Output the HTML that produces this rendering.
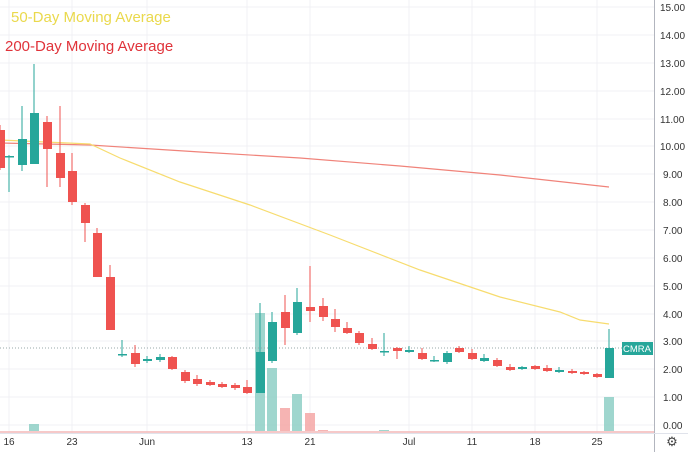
<!DOCTYPE html>
<html><head><meta charset="utf-8"><style>
html,body{margin:0;padding:0;background:#fff}
svg{display:block;font-family:"Liberation Sans",sans-serif}
</style></head><body>
<svg width="688" height="452" viewBox="0 0 688 452">
<rect width="688" height="452" fill="#fff"/>
<g stroke="#f0f1f4" stroke-width="1">
<line x1="0" x2="654" y1="7" y2="7"/><line x1="0" x2="654" y1="35" y2="35"/><line x1="0" x2="654" y1="63" y2="63"/><line x1="0" x2="654" y1="91" y2="91"/><line x1="0" x2="654" y1="119" y2="119"/><line x1="0" x2="654" y1="146" y2="146"/><line x1="0" x2="654" y1="174" y2="174"/><line x1="0" x2="654" y1="202" y2="202"/><line x1="0" x2="654" y1="230" y2="230"/><line x1="0" x2="654" y1="258" y2="258"/><line x1="0" x2="654" y1="286" y2="286"/><line x1="0" x2="654" y1="314" y2="314"/><line x1="0" x2="654" y1="341" y2="341"/><line x1="0" x2="654" y1="369" y2="369"/><line x1="0" x2="654" y1="397" y2="397"/><line x1="0" x2="654" y1="425" y2="425"/>
<line x1="9" x2="9" y1="0" y2="433"/><line x1="72" x2="72" y1="0" y2="433"/><line x1="147" x2="147" y1="0" y2="433"/><line x1="247" x2="247" y1="0" y2="433"/><line x1="310" x2="310" y1="0" y2="433"/><line x1="409" x2="409" y1="0" y2="433"/><line x1="472" x2="472" y1="0" y2="433"/><line x1="535" x2="535" y1="0" y2="433"/><line x1="597" x2="597" y1="0" y2="433"/>
</g>
<!-- volume -->
<g opacity="0.85">
<rect x="29" y="424" width="10" height="9" fill="#8fd0c6"/>
<rect x="255" y="313" width="10" height="120" fill="#8fd0c6"/>
<rect x="267" y="368" width="10" height="65" fill="#8fd0c6"/>
<rect x="280" y="408" width="10" height="25" fill="#f5a8a6"/>
<rect x="292" y="394" width="10" height="39" fill="#8fd0c6"/>
<rect x="305" y="413" width="10" height="20" fill="#f5a8a6"/>
<rect x="318" y="430" width="10" height="3" fill="#f5a8a6"/>
<rect x="330" y="431" width="10" height="2" fill="#f5a8a6"/>
<rect x="379" y="430" width="10" height="3" fill="#8fd0c6"/>
<rect x="604" y="397" width="10" height="36" fill="#8fd0c6"/>
<rect x="0" y="431" width="654" height="2" fill="#f5c0c0"/>
</g>
<!-- MAs -->
<polyline fill="none" stroke="#f0837a" stroke-width="1.2" points="0,143 90,145 200,152 300,158 400,166 500,175 609,187"/>
<polyline fill="none" stroke="#f7dc6f" stroke-width="1.2" points="0,140 90,144 120,158 180,182 250,205 330,235 420,270 500,297 560,312 580,320 609,324"/>
<line x1="0" x2="654" y1="348" y2="348" stroke="#9aa" stroke-width="1" stroke-dasharray="1,2"/>
<!-- candles -->
<g id="c"></g>
<g stroke-width="1">
<!-- format: wick then body -->
<line x1="0" x2="0" y1="125" y2="170" stroke="#ef5350"/><rect x="-4" y="130" width="9" height="38" fill="#ef5350"/>
<line x1="9" x2="9" y1="155" y2="192" stroke="#26a69a"/><rect x="5" y="156" width="9" height="1.5" fill="#26a69a"/>
<line x1="22" x2="22" y1="106" y2="171" stroke="#26a69a"/><rect x="18" y="139" width="9" height="26" fill="#26a69a"/>
<line x1="34" x2="34" y1="64" y2="164" stroke="#26a69a"/><rect x="30" y="113" width="9" height="51" fill="#26a69a"/>
<line x1="47" x2="47" y1="116" y2="187" stroke="#ef5350"/><rect x="43" y="122" width="9" height="27" fill="#ef5350"/>
<line x1="60" x2="60" y1="106" y2="187" stroke="#ef5350"/><rect x="56" y="153" width="9" height="25" fill="#ef5350"/>
<line x1="72" x2="72" y1="153" y2="205" stroke="#ef5350"/><rect x="68" y="171" width="9" height="31" fill="#ef5350"/>
<line x1="85" x2="85" y1="203" y2="242" stroke="#ef5350"/><rect x="81" y="205" width="9" height="18" fill="#ef5350"/>
<line x1="97" x2="97" y1="228" y2="277" stroke="#ef5350"/><rect x="93" y="233" width="9" height="44" fill="#ef5350"/>
<line x1="110" x2="110" y1="265" y2="330" stroke="#ef5350"/><rect x="106" y="277" width="9" height="53" fill="#ef5350"/>
<line x1="122" x2="122" y1="340" y2="357" stroke="#26a69a"/><rect x="118" y="354" width="9" height="1.5" fill="#26a69a"/>
<line x1="135" x2="135" y1="345" y2="367" stroke="#ef5350"/><rect x="131" y="353" width="9" height="11" fill="#ef5350"/>
<line x1="147" x2="147" y1="356" y2="363" stroke="#26a69a"/><rect x="143" y="359" width="9" height="2" fill="#26a69a"/>
<line x1="160" x2="160" y1="354" y2="362" stroke="#26a69a"/><rect x="156" y="357" width="9" height="3" fill="#26a69a"/>
<line x1="172" x2="172" y1="356" y2="370" stroke="#ef5350"/><rect x="168" y="357" width="9" height="12" fill="#ef5350"/>
<line x1="185" x2="185" y1="370" y2="383" stroke="#ef5350"/><rect x="181" y="372" width="9" height="9" fill="#ef5350"/>
<line x1="197" x2="197" y1="375" y2="386" stroke="#ef5350"/><rect x="193" y="379" width="9" height="5" fill="#ef5350"/>
<line x1="210" x2="210" y1="380" y2="386" stroke="#ef5350"/><rect x="206" y="382" width="9" height="3" fill="#ef5350"/>
<line x1="222" x2="222" y1="382" y2="388" stroke="#ef5350"/><rect x="218" y="384" width="9" height="3" fill="#ef5350"/>
<line x1="235" x2="235" y1="383" y2="390" stroke="#ef5350"/><rect x="231" y="385" width="9" height="3" fill="#ef5350"/>
<line x1="247" x2="247" y1="380" y2="394" stroke="#ef5350"/><rect x="243" y="387" width="9" height="6" fill="#ef5350"/>
<line x1="260" x2="260" y1="303" y2="393" stroke="#26a69a"/><rect x="256" y="352" width="9" height="41" fill="#26a69a"/>
<line x1="272" x2="272" y1="312" y2="363" stroke="#26a69a"/><rect x="268" y="322" width="9" height="39" fill="#26a69a"/>
<line x1="285" x2="285" y1="295" y2="345" stroke="#ef5350"/><rect x="281" y="312" width="9" height="16" fill="#ef5350"/>
<line x1="297" x2="297" y1="288" y2="335" stroke="#26a69a"/><rect x="293" y="302" width="9" height="31" fill="#26a69a"/>
<line x1="310" x2="310" y1="266" y2="322" stroke="#ef5350"/><rect x="306" y="307" width="9" height="4" fill="#ef5350"/>
<line x1="323" x2="323" y1="298" y2="321" stroke="#ef5350"/><rect x="319" y="306" width="9" height="11" fill="#ef5350"/>
<line x1="335" x2="335" y1="309" y2="332" stroke="#ef5350"/><rect x="331" y="319" width="9" height="8" fill="#ef5350"/>
<line x1="347" x2="347" y1="322" y2="334" stroke="#ef5350"/><rect x="343" y="328" width="9" height="5" fill="#ef5350"/>
<line x1="359" x2="359" y1="331" y2="345" stroke="#ef5350"/><rect x="355" y="333" width="9" height="10" fill="#ef5350"/>
<line x1="372" x2="372" y1="338" y2="350" stroke="#ef5350"/><rect x="368" y="344" width="9" height="5" fill="#ef5350"/>
<line x1="384" x2="384" y1="333" y2="356" stroke="#26a69a"/><rect x="380" y="351" width="9" height="1.5" fill="#26a69a"/>
<line x1="397" x2="397" y1="347" y2="359" stroke="#ef5350"/><rect x="393" y="348" width="9" height="3" fill="#ef5350"/>
<line x1="409" x2="409" y1="346" y2="353" stroke="#26a69a"/><rect x="405" y="350" width="9" height="2" fill="#26a69a"/>
<line x1="422" x2="422" y1="348" y2="360" stroke="#ef5350"/><rect x="418" y="353" width="9" height="6" fill="#ef5350"/>
<line x1="434" x2="434" y1="356" y2="362" stroke="#26a69a"/><rect x="430" y="360" width="9" height="1.5" fill="#26a69a"/>
<line x1="447" x2="447" y1="351" y2="364" stroke="#26a69a"/><rect x="443" y="353" width="9" height="9" fill="#26a69a"/>
<line x1="459" x2="459" y1="346" y2="353" stroke="#ef5350"/><rect x="455" y="348" width="9" height="4" fill="#ef5350"/>
<line x1="472" x2="472" y1="349" y2="360" stroke="#ef5350"/><rect x="468" y="353" width="9" height="6" fill="#ef5350"/>
<line x1="484" x2="484" y1="354" y2="362" stroke="#26a69a"/><rect x="480" y="358" width="9" height="3" fill="#26a69a"/>
<line x1="497" x2="497" y1="358" y2="367" stroke="#ef5350"/><rect x="493" y="360" width="9" height="6" fill="#ef5350"/>
<line x1="510" x2="510" y1="364" y2="371" stroke="#ef5350"/><rect x="506" y="367" width="9" height="3" fill="#ef5350"/>
<line x1="522" x2="522" y1="366" y2="370" stroke="#26a69a"/><rect x="518" y="367" width="9" height="2" fill="#26a69a"/>
<line x1="535" x2="535" y1="365" y2="370" stroke="#ef5350"/><rect x="531" y="366" width="9" height="3" fill="#ef5350"/>
<line x1="547" x2="547" y1="365" y2="372" stroke="#ef5350"/><rect x="543" y="368" width="9" height="3" fill="#ef5350"/>
<line x1="559" x2="559" y1="367" y2="373" stroke="#26a69a"/><rect x="555" y="370" width="9" height="2" fill="#26a69a"/>
<line x1="572" x2="572" y1="369" y2="374" stroke="#ef5350"/><rect x="568" y="371" width="9" height="2" fill="#ef5350"/>
<line x1="584" x2="584" y1="371" y2="375" stroke="#ef5350"/><rect x="580" y="372" width="9" height="2" fill="#ef5350"/>
<line x1="597" x2="597" y1="373" y2="378" stroke="#ef5350"/><rect x="593" y="374" width="9" height="3" fill="#ef5350"/>
<line x1="609" x2="609" y1="329" y2="378" stroke="#26a69a"/><rect x="605" y="348" width="9" height="30" fill="#26a69a"/>
</g>
<!-- axes -->
<line x1="654.5" x2="654.5" y1="0" y2="452" stroke="#b2b5be"/>
<line x1="0" x2="688" y1="433.5" y2="433.5" stroke="#e0e3eb"/>
<g font-size="10" fill="#333" text-anchor="start">
<text x="660" y="11">15.00</text><text x="660" y="39">14.00</text><text x="660" y="67">13.00</text><text x="660" y="95">12.00</text><text x="660" y="123">11.00</text><text x="660" y="150">10.00</text><text x="663" y="178">9.00</text><text x="663" y="206">8.00</text><text x="663" y="234">7.00</text><text x="663" y="262">6.00</text><text x="663" y="290">5.00</text><text x="663" y="318">4.00</text><text x="663" y="345">3.00</text><text x="663" y="373">2.00</text><text x="663" y="401">1.00</text><text x="663" y="429">0.00</text>
</g>
<rect x="622" y="342" width="31" height="13" fill="#26a69a"/>
<text x="637" y="352" font-size="9.5" fill="#fff" text-anchor="middle">CMRA</text>
<g font-size="10" fill="#333" text-anchor="middle">
<text x="9" y="445">16</text><text x="72" y="445">23</text><text x="147" y="445">Jun</text><text x="247" y="445">13</text><text x="310" y="445">21</text><text x="409" y="445">Jul</text><text x="472" y="445">11</text><text x="535" y="445">18</text><text x="597" y="445">25</text>
</g>
<text x="672" y="446" font-size="13" fill="#444" text-anchor="middle">⚙</text>
<text x="11" y="22" font-size="15" fill="#ead94c">50-Day Moving Average</text>
<text x="5" y="51" font-size="15" fill="#e0333a">200-Day Moving Average</text>
</svg>
</body></html>
